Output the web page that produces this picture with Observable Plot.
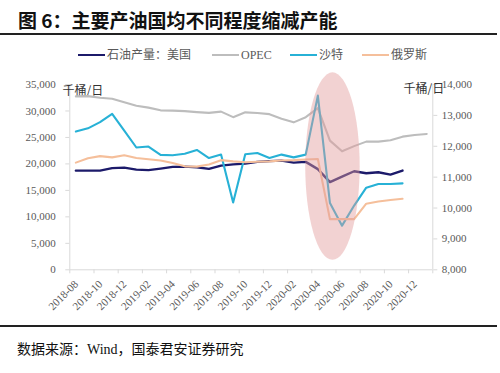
<!DOCTYPE html>
<html><head><meta charset="utf-8">
<script src="https://cdn.jsdelivr.net/npm/d3@7"></script>
<script src="https://cdn.jsdelivr.net/npm/@observablehq/plot@0.6"></script>
<style>
html,body{margin:0;padding:0;background:#fff;}
#wrap{position:relative;width:500px;height:373px;overflow:hidden;font-family:"Liberation Serif","Noto Sans CJK SC",serif;}
.abs{position:absolute;white-space:nowrap;}
#title{left:18px;top:10px;font:bold 19px/19px "Noto Sans CJK SC",sans-serif;color:#111;}
.rule{left:0;width:497px;height:2px;background:#222;}
.leg{top:49px;font:12px/12px "Liberation Serif","Noto Sans CJK SC",serif;color:#595959;display:flex;align-items:center;}
.sw{display:inline-block;width:27px;height:2px;margin-right:2px;}
#source{left:17px;top:343px;font:14px/14px "Liberation Serif","Noto Sans CJK SC",serif;color:#111;}
#chart{left:0;top:64px;}
</style></head><body>
<div id="wrap">
  <div id="title" class="abs">图 6：主要产油国均不同程度缩减产能</div>
  <div class="abs rule" style="top:33px;"></div>
  <div id="legend"></div>
  <div id="chart" class="abs"></div>
  <div class="abs rule" style="top:325px;"></div>
  <div id="source" class="abs">数据来源：Wind，国泰君安证券研究</div>
</div>
<script>
// ---- data ----
const months = ["2018-08","2018-09","2018-10","2018-11","2018-12","2019-01","2019-02","2019-03","2019-04","2019-05",
  "2019-06","2019-07","2019-08","2019-09","2019-10","2019-11","2019-12","2020-01","2020-02","2020-03",
  "2020-04","2020-05","2020-06","2020-07","2020-08","2020-09","2020-10","2020-11","2020-12","2021-01"];
const seriesNames = ["石油产量：美国","OPEC","沙特","俄罗斯"];
// left axis (千桶/日)
const usProduction = [18740,18740,18740,19210,19300,18930,18830,19120,19450,19490,19360,19060,19680,19910,20060,20380,20530,20620,20250,20380,19020,16570,17610,18610,18230,18420,17980,18740];
const opec = [32760,32800,32510,32320,31640,31000,30630,30120,30060,29970,29780,29640,29870,28830,29740,29630,29400,28550,27850,28830,30530,24400,22380,23360,24210,24210,24460,25150,25470,25660];
// right axis (千桶/日)
const saudi = [12475,12580,12780,13050,12510,11960,11990,11720,11710,11760,11880,11620,11730,10180,11740,11780,11620,11730,11640,11730,13640,10160,9430,10080,10660,10780,10780,10800];
const russia = [11470,11610,11680,11640,11710,11620,11580,11540,11460,11350,11340,11410,11550,11510,11480,11500,11510,11540,11550,11570,11590,9640,9640,9640,10140,10210,10260,10300];
const leftTicks = [0,5000,10000,15000,20000,25000,30000,35000];
const rightTicks = [8000,9000,10000,11000,12000,13000,14000];
const xTickLabels = ["2018-08","2018-10","2018-12","2019-02","2019-04","2019-06","2019-08","2019-10","2019-12","2020-02","2020-04","2020-06","2020-08","2020-10","2020-12"];
const unitLabel = "千桶/日";
// highlighted period (annotation): centred on 2020-05
const highlight = {month: "2020-05", value: 19500, halfMonths: 2.25, halfValue: 17700};

// ---- styles ----
const colors = ["#1C1A6A","#BDBDBD","#27B1D6","#F5BF9B"];
const leftDomain = [0, 35000], rightDomain = [8000, 14000];
const toLeft = v => (v - rightDomain[0]) / (rightDomain[1] - rightDomain[0]) * (leftDomain[1] - leftDomain[0]) + leftDomain[0];
const fromLeft = v => (v - leftDomain[0]) / (leftDomain[1] - leftDomain[0]) * (rightDomain[1] - rightDomain[0]) + rightDomain[0];
const fmt = d3.format(",");

const rows = (vals, conv) => vals.map((v, i) => ({x: i + 0.5, y: conv ? toLeft(v) : v}));
const seriesData = [rows(usProduction), rows(opec), rows(saudi, true), rows(russia, true)];

// legend
const legendX = [78, 212, 290, 362];
const legend = document.getElementById("legend");
seriesNames.forEach((n, k) => {
  const d = document.createElement("div");
  d.className = "abs leg";
  d.style.left = legendX[k] + "px";
  d.innerHTML = `<span class="sw" style="background:${colors[k]};height:${k===0?2.5:2}px"></span>${n}`;
  legend.appendChild(d);
});

const axisGray = "#D9D9D9", labelGray = "#595959";
const hiIndex = months.indexOf(highlight.month) + 0.5;

const plot = Plot.plot({
  width: 500, height: 258,
  marginLeft: 69.3, marginRight: 67.7, marginTop: 20, marginBottom: 52.7,
  x: {type: "linear", domain: [0, months.length]},
  y: {domain: leftDomain},
  style: {fontFamily: "'Liberation Serif','Noto Sans CJK SC',serif", fontSize: "11px", color: labelGray, background: "transparent", overflow: "visible"},
  marks: [
    Plot.ruleX([0, months.length], {stroke: axisGray}),
    Plot.ruleY([0], {stroke: axisGray}),
    Plot.axisY({ticks: leftTicks, tickFormat: fmt, tickSize: 4, tickPadding: 10, stroke: axisGray, fill: labelGray, label: null}),
    Plot.axisY({anchor: "right", ticks: rightTicks.map(toLeft), tickFormat: d => fmt(Math.round(fromLeft(d))), tickSize: 4, tickPadding: 5, stroke: axisGray, fill: labelGray, label: null}),
    Plot.axisX({ticks: d3.range(0, months.length + 1, 2), tickSize: 4, tickFormat: () => "", stroke: axisGray, label: null}),
    Plot.text(xTickLabels, {x: d => months.indexOf(d) + 0.5, frameAnchor: "bottom", text: d => d, rotate: -45, textAnchor: "end", dx: 3, dy: 15, fill: labelGray, fontSize: 11}),
    Plot.text([unitLabel], {frameAnchor: "top-left", text: d => d, textAnchor: "start", dx: -7.3, dy: 1.7, fill: "#333", fontSize: 12, fontFamily: "'Noto Sans CJK SC',sans-serif"}),
    Plot.text([unitLabel], {frameAnchor: "top-right", text: d => d, textAnchor: "start", dx: -29.3, dy: 0, fill: "#333", fontSize: 12, fontFamily: "'Noto Sans CJK SC',sans-serif"}),
    ...seriesData.map((data, k) => Plot.line(data, {x: "x", y: "y", stroke: colors[k], strokeWidth: k === 0 ? 2.4 : 2.1})),
    (index, scales) => {
      const sx = scales.x, sy = scales.y;
      const cx = sx(hiIndex), cy = sy(highlight.value);
      const rx = Math.abs(sx(hiIndex + highlight.halfMonths) - cx);
      const ry = Math.abs(sy(highlight.value + highlight.halfValue) - cy);
      const e = document.createElementNS("http://www.w3.org/2000/svg", "ellipse");
      e.setAttribute("cx", cx + 3); e.setAttribute("cy", cy);
      e.setAttribute("rx", rx); e.setAttribute("ry", ry);
      e.setAttribute("fill", "#E29C9C"); e.setAttribute("fill-opacity", 0.45);
      return e;
    }
  ]
});
document.getElementById("chart").appendChild(plot);
</script>
</body></html>
